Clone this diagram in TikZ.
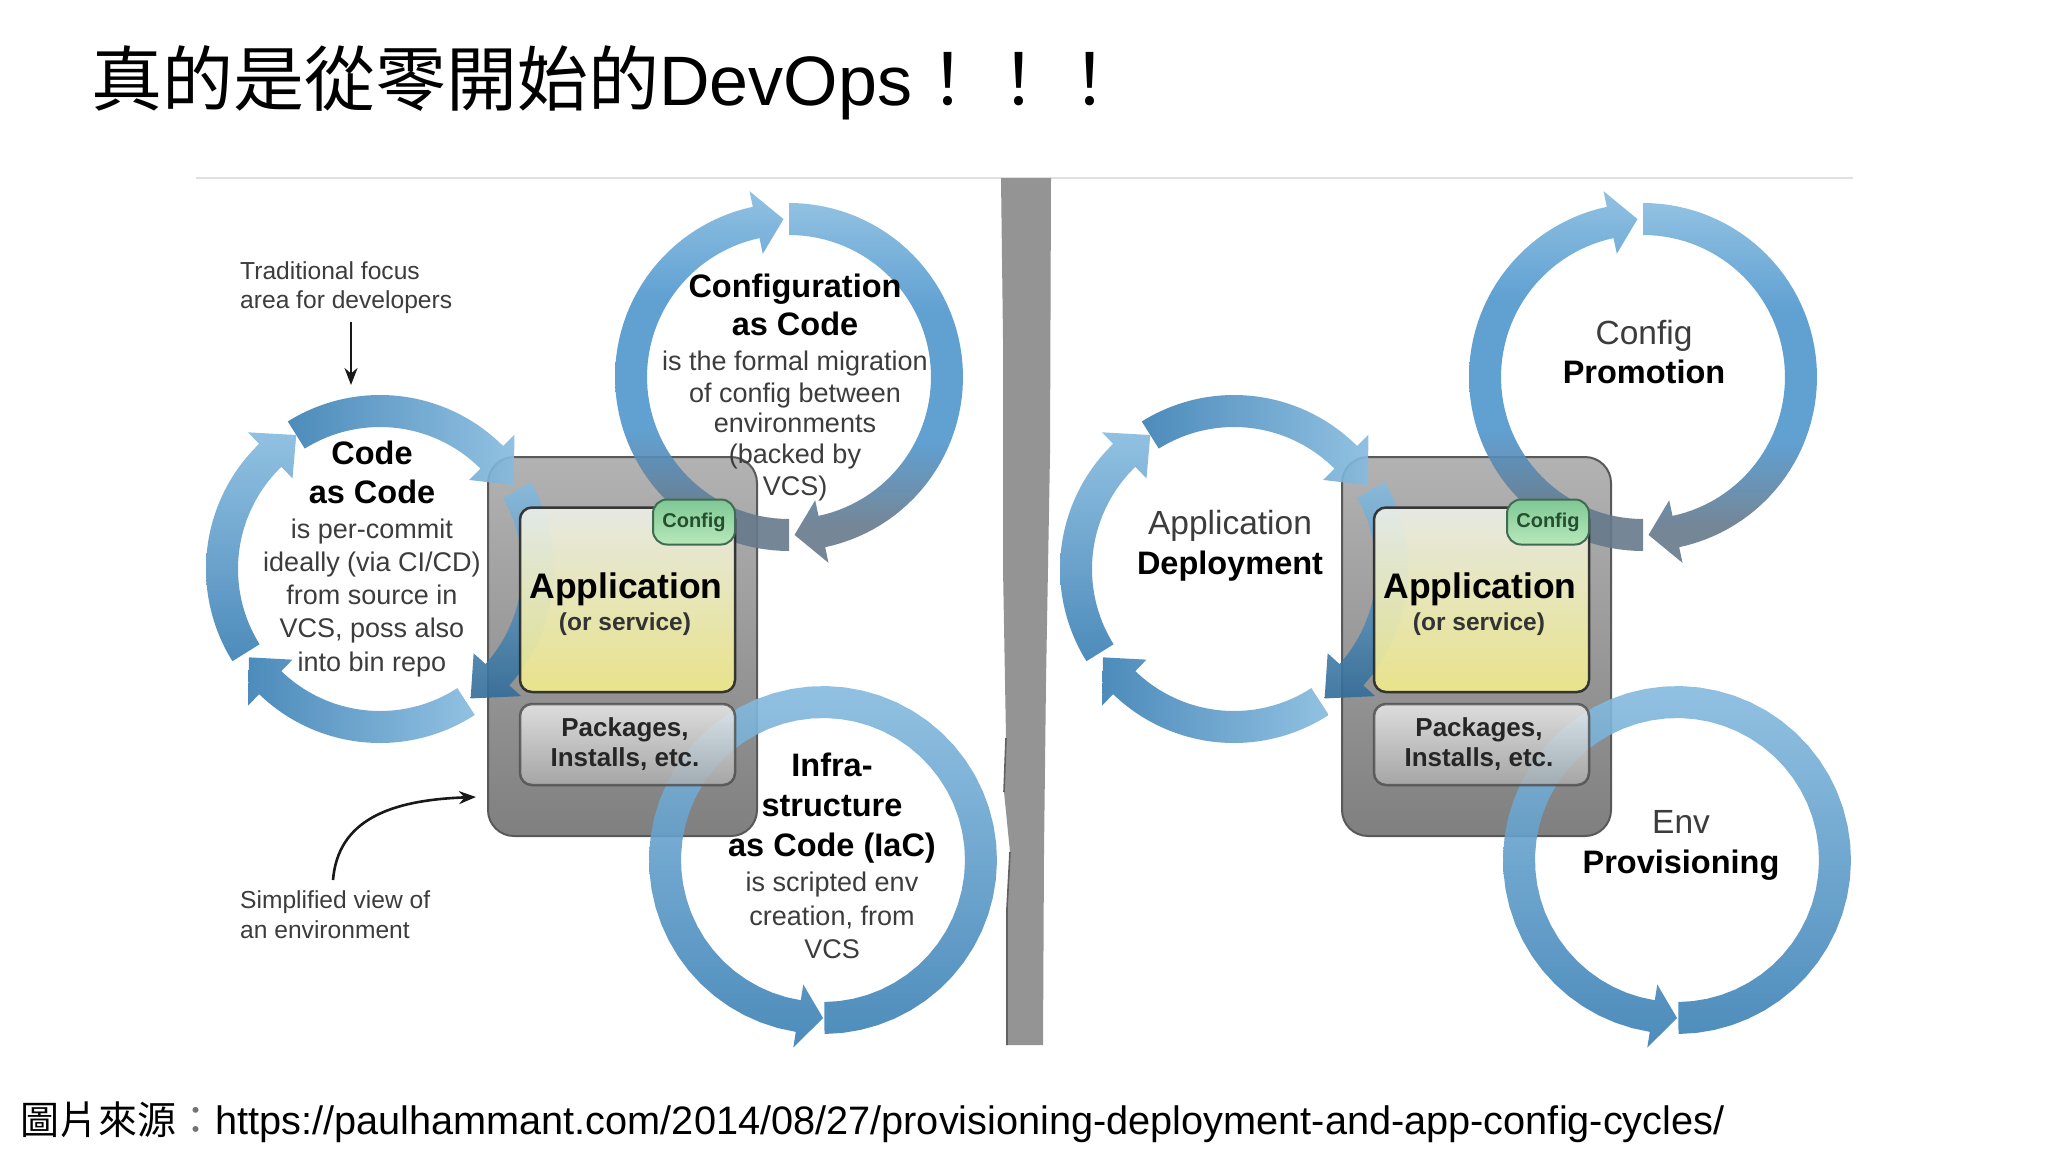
\documentclass[tikz,border=0pt]{standalone}
\usepackage{fontspec}
\setmainfont{Liberation Sans}
\newfontfamily\cjk{Noto Sans CJK TC}
\usetikzlibrary{shadings,arrows.meta}
\definecolor{txtgray}{HTML}{3C3C3C}
\definecolor{ringlight}{HTML}{86BBDF}
\definecolor{ringmid}{HTML}{4F97CE}
\definecolor{ringdark}{HTML}{3A7FB4}
\definecolor{ringslate}{HTML}{66798C}
\definecolor{appmid}{HTML}{F2F0CE}
\definecolor{apptop}{HTML}{EDEFE9}
\definecolor{appbot}{HTML}{F2EC8A}
\definecolor{cfgtop}{HTML}{7FC795}
\definecolor{cfgbot}{HTML}{B8E8BA}
\definecolor{cfgline}{HTML}{3F6B50}
\definecolor{cfgtext}{HTML}{24502F}
\pgfdeclareverticalshading{cfgringshade}{100bp}{color(0bp)=(ringslate); color(30bp)=(ringslate); color(42bp)=(ringmid); color(60bp)=(ringmid); color(75bp)=(ringlight); color(100bp)=(ringlight)}
% \ringarrow{cx}{cy}{start}{base}{tip}{shading options}: band of mean radius 158, clockwise if start>tip
\newcommand{\ringarrow}[6]{%
  \shade[ringshape,#6]
    plot[domain=#3:#4,samples=60] ({#1+174*cos(\x)},{#2-174*sin(\x)})
    -- ({#1+190*cos(#4)},{#2-190*sin(#4)})
    -- ({#1+158*cos(#5)},{#2-158*sin(#5)})
    -- ({#1+126*cos(#4)},{#2-126*sin(#4)})
    -- plot[domain=#4:#3,samples=60] ({#1+142*cos(\x)},{#2-142*sin(\x)})
    -- cycle;}
\tikzset{
  ringshape/.style={opacity=.9},
  envbox/.style={draw=black!65,line width=2pt,rounded corners=26pt,top color=black!30,bottom color=black!50},
  appbox/.style={draw=black!85,line width=2.5pt,rounded corners=12pt,opacity=.9,top color=apptop,middle color=appmid,bottom color=appbot},
  pkgbox/.style={draw=black!70,line width=2.5pt,rounded corners=12pt,opacity=.8,top color=black!6,bottom color=black!32},
  cfgbox/.style={draw=cfgline,line width=2pt,rounded corners=14pt,top color=cfgtop,bottom color=cfgbot},
  regtext/.style={anchor=base,text=txtgray,font=\fontsize{27}{27}\selectfont},
  boldtext/.style={anchor=base,text=black,font=\fontsize{32.5}{32.5}\selectfont\bfseries},
  plainbig/.style={anchor=base,text=txtgray,font=\fontsize{33.5}{33.5}\selectfont},
  notetext/.style={anchor=base west,text=txtgray,font=\fontsize{24.6}{24.6}\selectfont},
  pkgtext/.style={anchor=base,text=black!85,font=\fontsize{26}{26}\selectfont\bfseries},
  noteline/.style={draw=black!90,line width=2.6pt,-{Stealth[length=17pt,width=13pt]}},
}
% shared central stack and rings; #1 x offset, #2 name prefix
\newcommand{\envstack}[2]{%
  \begin{scope}[shift={(#1,0)}]
    \path[envbox] (488,457) rectangle (757,836);
    \ringarrow{380}{569}{122}{45}{32}{left color=ringdark,right color=ringlight}
    \ringarrow{380}{569}{30}{-42}{-55}{top color=ringlight,bottom color=ringdark!85!black}
    \ringarrow{380}{569}{-57}{-134}{-146}{left color=ringdark,right color=ringlight}
    \ringarrow{380}{569}{-148}{-226}{-238}{bottom color=ringdark,top color=ringlight}
    \ringarrow{789}{377}{90}{-78}{-88}{shading=cfgringshade}
    \ringarrow{789}{377}{-90}{-258}{-268}{shading=cfgringshade}
    \ringarrow{823}{860}{-89.5}{261}{270}{top color=ringlight,middle color=ringmid,bottom color=ringdark}
    \path[appbox] (520,507.5) rectangle (735,692);
    \path[pkgbox] (520,704) rectangle (735,785);
    \node[cfgbox,minimum width=82pt,minimum height=45pt,inner sep=0pt,text=cfgtext,font=\fontsize{20}{20}\selectfont\bfseries] (#2config) at (694,522) {Config};
    \node[anchor=base,text=black,font=\fontsize{35.5}{35.5}\selectfont\bfseries,inner sep=0pt] (#2app) at (626,598) {Application};
    \node[anchor=base,text=black!80,font=\fontsize{24.5}{24.5}\selectfont\bfseries,inner sep=0pt] (#2svc) at (625,630) {(or service)};
    \node[pkgtext,inner sep=0pt] (#2pk) at (625,736) {Packages,};
    \node[pkgtext,inner sep=0pt] (#2in) at (625,766) {Installs, etc.};
  \end{scope}}
\begin{document}
\begin{tikzpicture}[x=1pt,y=-1pt,inner sep=0pt]
\useasboundingbox (0,0) rectangle (2048,1152);
\fill[white] (0,0) rectangle (2048,1152);
% title
\node[anchor=base west] (title) at (91,105) {\fontsize{71}{71}\selectfont\cjk 真的是從零開始的\fontsize{70}{70}\selectfont\rmfamily DevOps\fontsize{71}{71}\selectfont\cjk ！！！};
% image frame
\draw[black!12,line width=1.5pt] (196,178) -- (1853,178);
\fill[black!42] (1001,178) -- (1051,178) -- (1050,454) -- (1046,681) -- (1044,852) -- (1043,1045) -- (1007,1045) -- (1007,908) -- (1010,852) -- (1004,792) -- (1006,738) -- (1003,568) -- (1003,340) -- cycle;
\draw[black!62,line width=1.6pt] (1006,738) -- (1004,792);
\draw[black!62,line width=1.6pt] (1010,852) -- (1007,908) -- (1007,1045);
\envstack{0}{l}
\envstack{854}{r}
% left texts
\node[notetext] (trad1) at (240,279) {Traditional focus};
\node[notetext] (trad2) at (240,308) {area for developers};
\coordinate (tradfrom) at (351,322);
\coordinate (tradto) at (351,385);
\draw[noteline] (tradfrom) -- (tradto);
\node[notetext] (simp1) at (240,908) {Simplified view of};
\node[notetext] (simp2) at (240,938) {an environment};
\coordinate (simpfrom) at (333,880);
\coordinate (simpto) at (476,797);
\draw[noteline] (simpfrom) .. controls (338,820) and (390,800) .. (simpto);
\node[boldtext] (c1) at (372,464) {Code};
\node[boldtext] (c2) at (372,503) {as Code};
\node[regtext] (c3) at (372,538) {is per-commit};
\node[regtext] (c4) at (372,571) {ideally (via CI/CD)};
\node[regtext] (c5) at (372,604) {from source in};
\node[regtext] (c6) at (372,637) {VCS, poss also};
\node[regtext] (c7) at (372,671) {into bin repo};
\node[boldtext] (g1) at (795,297) {Configuration};
\node[boldtext] (g2) at (795,335) {as Code};
\node[regtext] (g3) at (795,370) {is the formal migration};
\node[regtext] (g4) at (795,402) {of config between};
\node[regtext] (g5) at (795,432) {environments};
\node[regtext] (g6) at (795,463) {(backed by};
\node[regtext] (g7) at (795,495) {VCS)};
\node[boldtext] (i1) at (832,776) {Infra-};
\node[boldtext] (i2) at (832,816) {structure};
\node[boldtext] (i3) at (832,856) {as Code (IaC)};
\node[regtext] (i4) at (832,891) {is scripted env};
\node[regtext] (i5) at (832,925) {creation, from};
\node[regtext] (i6) at (832,958) {VCS};
% right texts
\node[plainbig] (d1) at (1230,534) {Application};
\node[boldtext] (d2) at (1230,574) {Deployment};
\node[plainbig] (p1) at (1644,344) {Config};
\node[boldtext] (p2) at (1644,383) {Promotion};
\node[plainbig] (e1) at (1681,833) {Env};
\node[boldtext] (e2) at (1681,873) {Provisioning};
% source
\node[anchor=base west] (src) at (20,1134) {\fontsize{39}{39}\selectfont\cjk 圖片來源{\color{black!55}：}\fontsize{39.7}{39.7}\selectfont\rmfamily https://paulhammant.com/2014/08/27/provisioning-deployment-and-app-config-cycles/};
\end{tikzpicture}
\end{document}
